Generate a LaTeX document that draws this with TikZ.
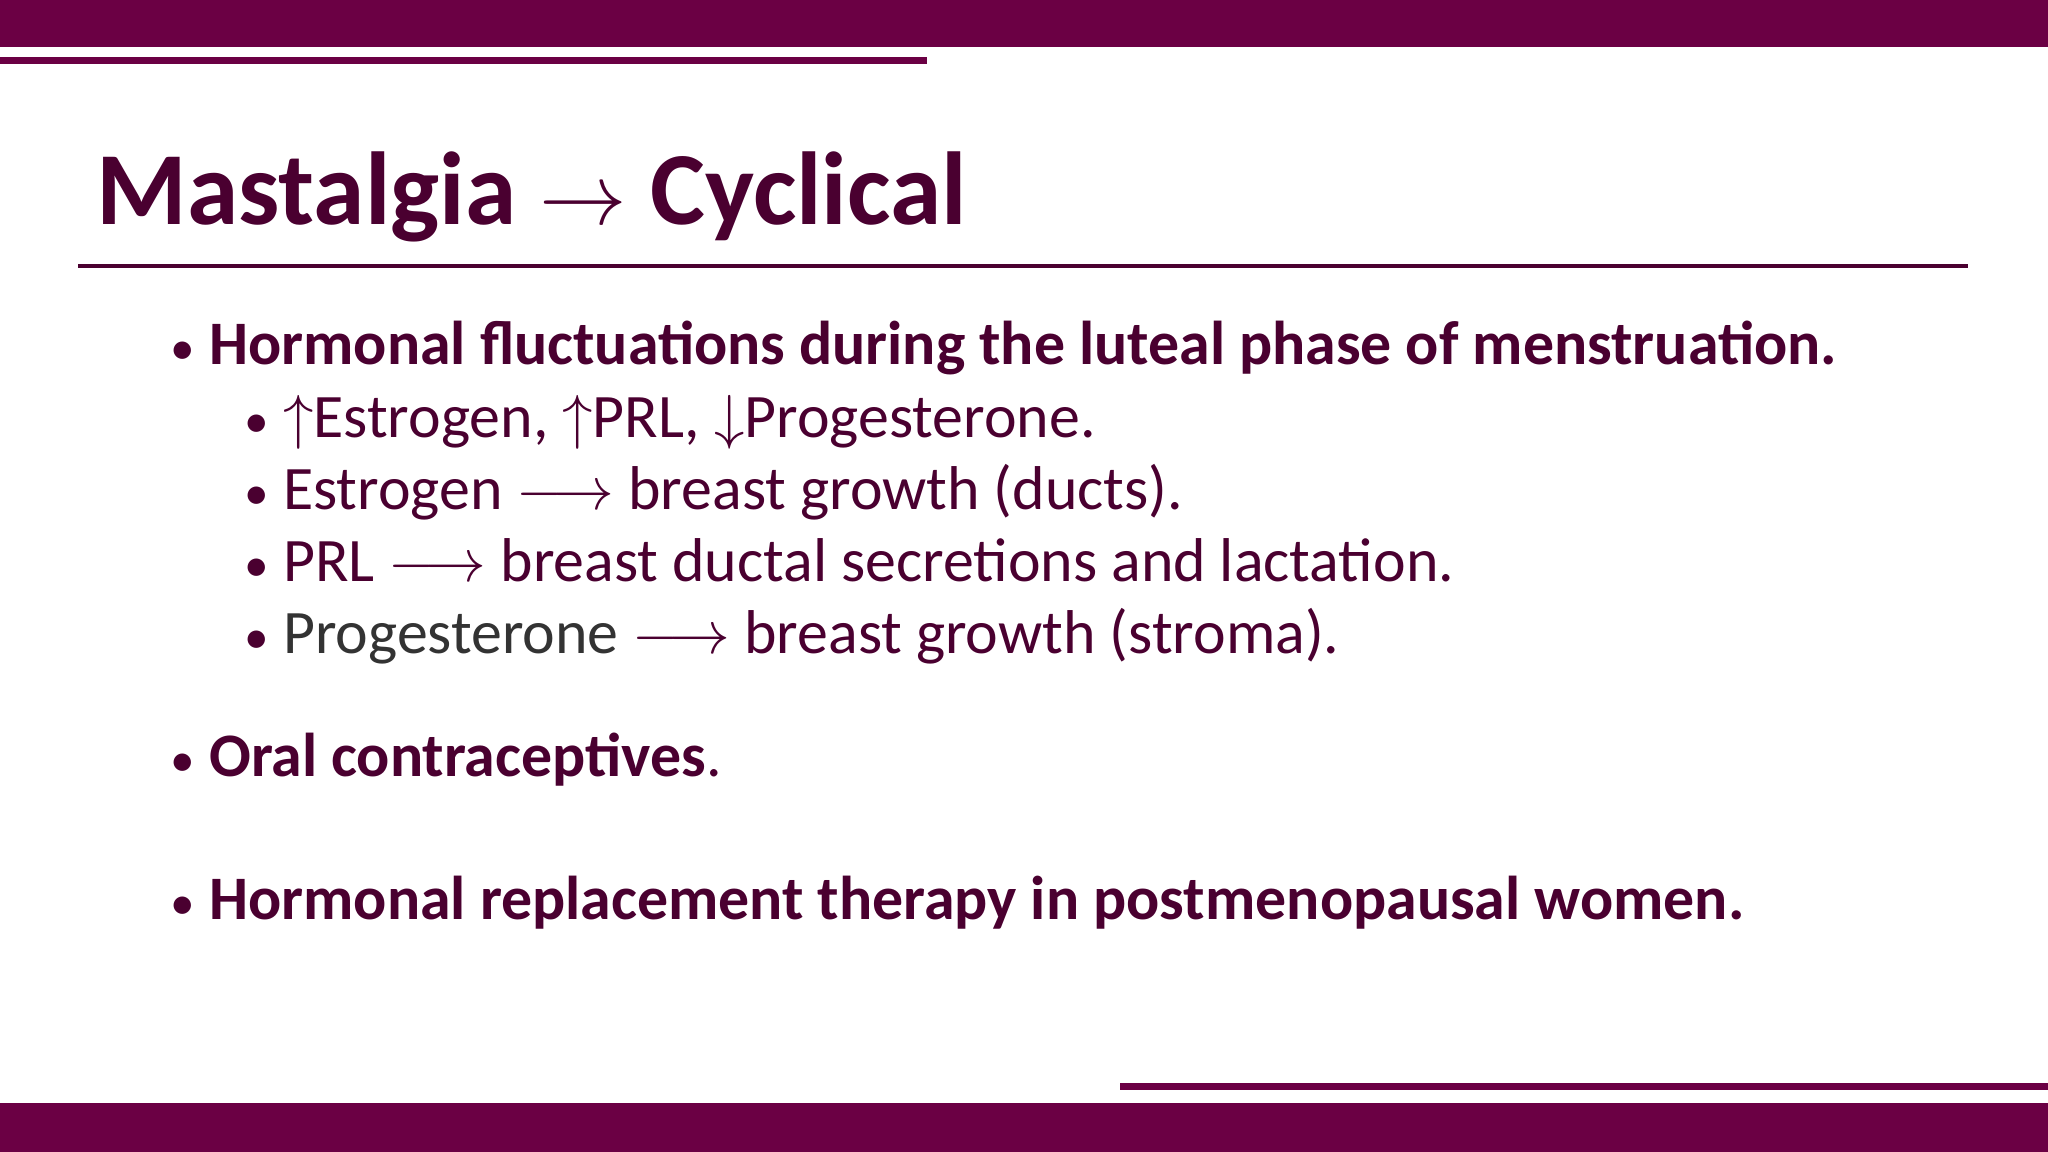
\documentclass[tikz,border=0pt]{standalone}
\usepackage{fontspec}
\setmainfont{Carlito}
\definecolor{plum}{HTML}{6B0044}
\definecolor{ink}{HTML}{4A0030}
\newcommand{\dotmark}{{\mdseries\fontsize{14}{14}\selectfont\textbullet}\ }
\tikzstyle{lvlone}=[anchor=base west,inner sep=0pt,text=ink,font=\fontsize{17.6}{20}\selectfont\bfseries]
\tikzstyle{lvltwo}=[anchor=base west,inner sep=0pt,text=ink,font=\fontsize{17.6}{20}\selectfont]
\begin{document}
\begin{tikzpicture}
\useasboundingbox (0,0) rectangle (20.48,11.52);
\fill[plum] (0,11.05) rectangle (20.48,11.52);
\fill[plum] (0,10.88) rectangle (9.27,10.95);
\fill[plum] (0,0) rectangle (20.48,0.49);
\fill[plum] (11.2,0.62) rectangle (20.48,0.69);
\fill[ink] (0.78,8.84) rectangle (19.68,8.88);
\node[anchor=base west,inner sep=0pt,text=ink] (title) at (0.96,9.27)
  {\fontsize{29.5}{34}\selectfont\bfseries Mastalgia \mdseries$\rightarrow$ \bfseries Cyclical};
\node[lvlone] (b1) at (1.7,7.87) {\dotmark Hormonal fluctuations during the luteal phase of menstruation.};
\node[lvltwo] (s1) at (2.44,7.14) {\dotmark $\uparrow$Estrogen, $\uparrow$PRL, $\downarrow$Progesterone.};
\node[lvltwo] (s2) at (2.44,6.42) {\dotmark Estrogen $\longrightarrow$ breast growth (ducts).};
\node[lvltwo] (s3) at (2.44,5.70) {\dotmark PRL $\longrightarrow$ breast ductal secretions and lactation.};
\node[lvltwo] (s4) at (2.44,4.98) {\dotmark \textcolor{black!80}{Progesterone} $\longrightarrow$ breast growth (stroma).};
\node[lvlone] (b2) at (1.7,3.75) {\dotmark Oral contraceptives\mdseries.};
\node[lvlone] (b3) at (1.7,2.32) {\dotmark Hormonal replacement therapy in postmenopausal women.};
\end{tikzpicture}
\end{document}
